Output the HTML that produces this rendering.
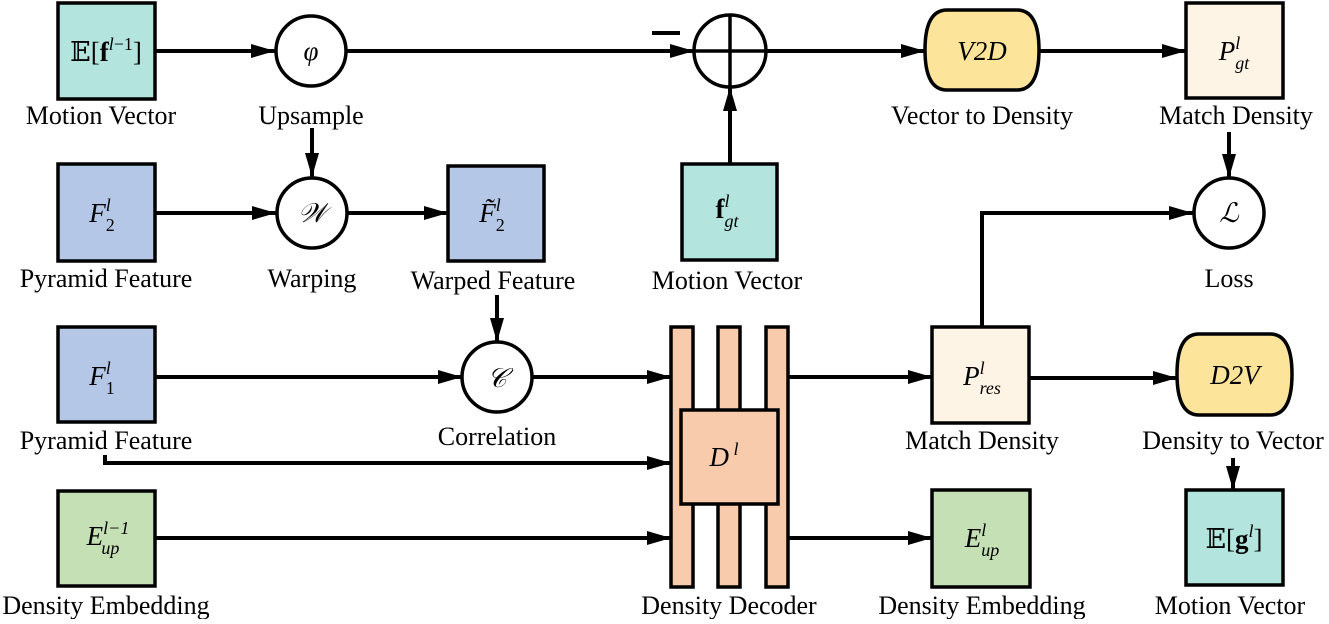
<!DOCTYPE html>
<html><head><meta charset="utf-8"><style>
body{margin:0;background:#fff}
svg, svg text, svg tspan{font-family:"Liberation Serif","Times New Roman","DejaVu Serif",serif}
.l{font-size:26px;text-anchor:middle}
.m{font-size:27px;font-style:italic;text-anchor:middle}
</style></head><body>
<svg width="1329" height="619" viewBox="0 0 1329 619" xmlns="http://www.w3.org/2000/svg" font-family="Liberation Serif, Times New Roman, DejaVu Serif, serif">
<defs>
<marker id="b" markerWidth="24" markerHeight="14" refX="24" refY="7" orient="auto" markerUnits="userSpaceOnUse"><path d="M0,0 L24,7 L0,14 z" fill="#000"/></marker></defs>
<g stroke="#000" stroke-width="4" fill="none">
<line x1="156" y1="51" x2="275" y2="51" marker-end="url(#b)"/>
<line x1="347" y1="51" x2="694" y2="51" marker-end="url(#b)"/>
<line x1="766" y1="51" x2="925" y2="51" marker-end="url(#b)"/>
<line x1="1039" y1="51" x2="1186" y2="51" marker-end="url(#b)"/>
<line x1="730" y1="164" x2="730" y2="87" marker-end="url(#b)"/>
<line x1="312" y1="128" x2="312" y2="177" marker-end="url(#b)"/>
<line x1="156" y1="213" x2="276" y2="213" marker-end="url(#b)"/>
<line x1="348" y1="213" x2="448" y2="213" marker-end="url(#b)"/>
<line x1="1229" y1="132" x2="1229" y2="178" marker-end="url(#b)"/>
<polyline points="982,327 982,213 1193,213" marker-end="url(#b)"/>
<line x1="497" y1="295" x2="497" y2="342" marker-end="url(#b)"/>
<line x1="156" y1="377" x2="462" y2="377" marker-end="url(#b)"/>
<line x1="532" y1="377" x2="671" y2="377" marker-end="url(#b)"/>
<polyline points="105,455 105,463 671,463" marker-end="url(#b)"/>
<line x1="156" y1="538" x2="671" y2="538" marker-end="url(#b)"/>
<line x1="788" y1="377" x2="932" y2="377" marker-end="url(#b)"/>
<line x1="788" y1="538" x2="932" y2="538" marker-end="url(#b)"/>
<line x1="1029" y1="378" x2="1177" y2="378" marker-end="url(#b)"/>
<line x1="1233" y1="458" x2="1233" y2="490" marker-end="url(#b)"/>
<line x1="652" y1="33" x2="680" y2="33"/>
</g>
<g stroke="#000" stroke-width="3.5">
<rect x="58" y="3" width="97" height="96" fill="#b3e5de"/>
<rect x="58" y="164" width="97" height="97" fill="#b4c7e7"/>
<rect x="448" y="166" width="96" height="95" fill="#b4c7e7"/>
<rect x="58" y="327" width="97" height="95" fill="#b4c7e7"/>
<rect x="58" y="491" width="97" height="95" fill="#c5e0b4"/>
<rect x="682" y="164" width="95" height="96" fill="#b3e5de"/>
<rect x="1186" y="3" width="97" height="95" fill="#fef4e6"/>
<rect x="932" y="327" width="97" height="96" fill="#fef4e6"/>
<rect x="932" y="490" width="98" height="97" fill="#c5e0b4"/>
<rect x="1186" y="490" width="97" height="95" fill="#b3e5de"/>
<path d="M947,10 L1017,10 Q1039,10 1039,50 Q1039,90 1017,90 L947,90 Q925,90 925,50 Q925,10 947,10 Z" fill="#fde49b"/>
<path d="M1199,334 L1270,334 Q1292,334 1292,374 Q1292,415 1270,415 L1199,415 Q1177,415 1177,374 Q1177,334 1199,334 Z" fill="#fde49b"/>
<rect x="671" y="327" width="22" height="260" fill="#f8cbad"/>
<rect x="718" y="327" width="22" height="260" fill="#f8cbad"/>
<rect x="766" y="327" width="22" height="260" fill="#f8cbad"/>
<rect x="681" y="410" width="97" height="94" fill="#f8cbad"/>
<circle cx="311" cy="51" r="35" fill="#fff"/>
<circle cx="312" cy="213" r="35" fill="#fff"/>
<circle cx="497" cy="377" r="35" fill="#fff"/>
<circle cx="730" cy="51" r="36" fill="#fff"/>
<circle cx="1229" cy="213" r="35" fill="#fff"/>
<line x1="694" y1="51" x2="766" y2="51"/><line x1="730" y1="15" x2="730" y2="87"/>
</g>
<text class="m" x="106" y="61" style="font-style:normal">𝔼[<tspan font-weight="bold">f</tspan><tspan font-size="18" dy="-11" font-style="italic">l</tspan><tspan font-size="18">−1</tspan><tspan dy="11">]</tspan></text>
<text class="m" x="311" y="60">φ</text>
<text class="m" x="312" y="222">𝒲</text>
<text class="m" x="497" y="387">𝒞</text>
<text class="m" x="102" y="222">F<tspan font-size="18" dy="-11">l</tspan><tspan font-size="18" dx="-5" dy="20" font-style="normal">2</tspan></text>
<text class="m" x="492" y="222">F̃<tspan font-size="18" dy="-11">l</tspan><tspan font-size="18" dx="-5" dy="20" font-style="normal">2</tspan></text>
<text class="m" x="102" y="385">F<tspan font-size="18" dy="-11">l</tspan><tspan font-size="18" dx="-5" dy="20" font-style="normal">1</tspan></text>
<text class="m" x="108" y="545">E<tspan font-size="18" dy="-11">l−1</tspan><tspan font-size="18" dx="-28" dy="20">up</tspan></text>
<text class="m" x="727" y="218" style="font-style:normal"><tspan font-weight="bold">f</tspan><tspan font-size="18" dy="-11" font-style="italic">l</tspan><tspan font-size="18" dx="-5" dy="20" font-style="italic">gt</tspan></text>
<text class="m" x="982" y="60">V2D</text>
<text class="m" x="1234" y="60">P<tspan font-size="18" dy="-11">l</tspan><tspan font-size="18" dx="-5" dy="20">gt</tspan></text>
<text class="m" x="1229" y="222" font-size="22">ℒ</text>
<text class="m" x="724" y="466">D<tspan font-size="18" dy="-11"> l</tspan></text>
<text class="m" x="982" y="385">P<tspan font-size="18" dy="-11">l</tspan><tspan font-size="18" dx="-5" dy="20">res</tspan></text>
<text class="m" x="982" y="547">E<tspan font-size="18" dy="-11">l</tspan><tspan font-size="18" dx="-5" dy="20">up</tspan></text>
<text class="m" x="1235" y="384">D2V</text>
<text class="m" x="1234" y="548" style="font-style:normal">𝔼[<tspan font-weight="bold">g</tspan><tspan font-size="18" dy="-11" font-style="italic">l</tspan><tspan dy="11">]</tspan></text>
<text class="l" x="101" y="124">Motion Vector</text>
<text class="l" x="311" y="124">Upsample</text>
<text class="l" x="982" y="124">Vector to Density</text>
<text class="l" x="1236" y="124">Match Density</text>
<text class="l" x="106" y="287">Pyramid Feature</text>
<text class="l" x="312" y="287">Warping</text>
<text class="l" x="493" y="289">Warped Feature</text>
<text class="l" x="727" y="289">Motion Vector</text>
<text class="l" x="1229" y="287">Loss</text>
<text class="l" x="106" y="449">Pyramid Feature</text>
<text class="l" x="497" y="445">Correlation</text>
<text class="l" x="982" y="449">Match Density</text>
<text class="l" x="1233" y="449">Density to Vector</text>
<text class="l" x="106" y="614">Density Embedding</text>
<text class="l" x="729" y="614">Density Decoder</text>
<text class="l" x="982" y="614">Density Embedding</text>
<text class="l" x="1230" y="614">Motion Vector</text>
</svg>
</body></html>
